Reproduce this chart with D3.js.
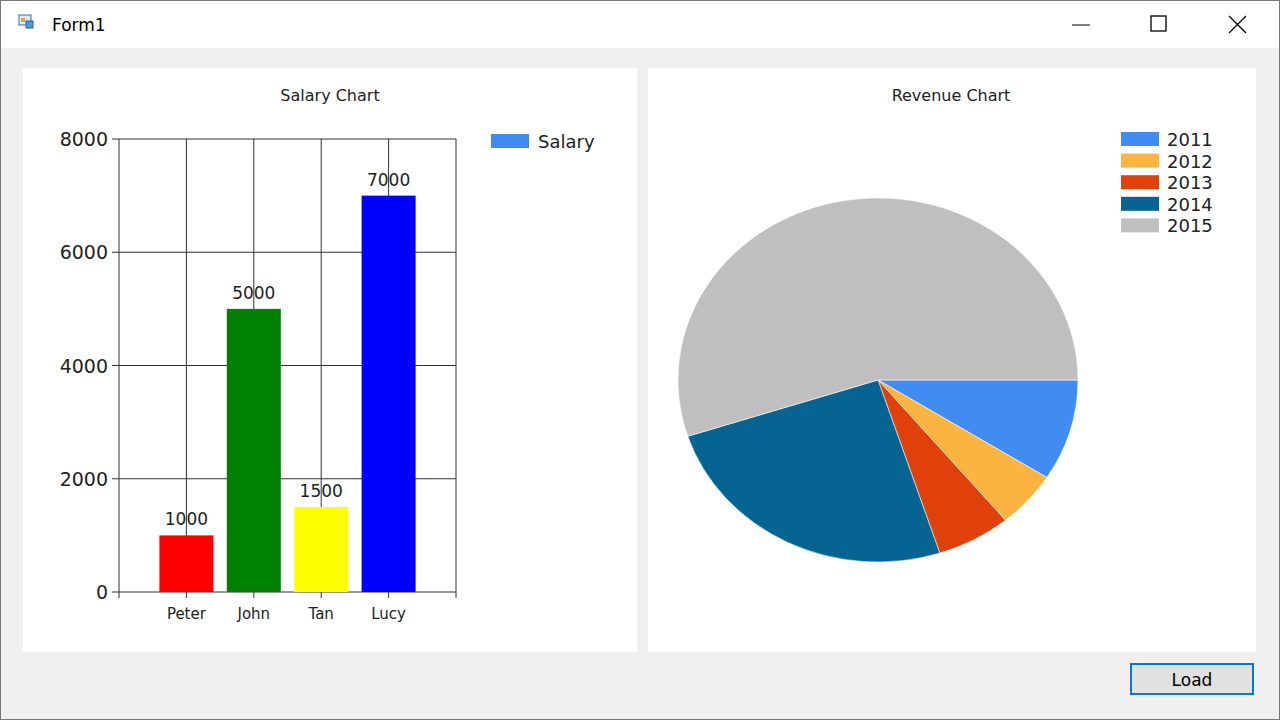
<!DOCTYPE html>
<html><head><meta charset="utf-8">
<script src="https://cdn.jsdelivr.net/npm/d3@7"></script>
<style>body{margin:0;background:#fff;font-family:"Segoe UI","DejaVu Sans",sans-serif}</style>
</head><body>
<svg id="c" width="1280" height="720"></svg>
<script>
const names = ["Peter","John","Tan","Lucy"];
const salaries = [1000,5000,1500,7000];
const barColors = ["#ff0000","#008000","#ffff00","#0000ff"];
const yTicks = [0,2000,4000,6000,8000];
const years = ["2011","2012","2013","2014","2015"];
const revenue = [9,5,6,25,55];
const pieColors = ["#418cf0","#fcb441","#e0400a","#056492","#bfbfbf"];

const svg = d3.select("#c");
svg.append("rect").attr("x",0.5).attr("y",0.5).attr("width",1279).attr("height",719).attr("fill","#f0f0f0").attr("stroke","#777");
svg.append("rect").attr("x",1).attr("y",1).attr("width",1278).attr("height",47).attr("fill","#fff");
const ic = svg.append("g").attr("transform","translate(19,15)");
ic.append("rect").attr("width",12).attr("height",10).attr("fill","#dfe8f3").attr("stroke","#3c6ea8");
ic.append("rect").attr("x",2).attr("y",3).attr("width",4).attr("height",4).attr("fill","#e9a13b");
ic.append("rect").attr("x",7).attr("y",6).attr("width",7).attr("height",7).attr("fill","#4a9bd8").attr("stroke","#2a5f9a");
svg.append("text").attr("x",52).attr("y",31).attr("font-size",17).attr("fill","#000").text("Form1");
svg.append("line").attr("x1",1072).attr("x2",1090).attr("y1",25).attr("y2",25).attr("stroke","#000");
svg.append("rect").attr("x",1151).attr("y",16).attr("width",15).attr("height",15).attr("fill","none").attr("stroke","#000").attr("stroke-width",1.3);
svg.append("path").attr("d","M1229,16L1246,33M1246,16L1229,33").attr("stroke","#000").attr("stroke-width",1.3);
svg.append("rect").attr("x",23).attr("y",68).attr("width",614).attr("height",584).attr("fill","#fff");
svg.append("rect").attr("x",648).attr("y",68).attr("width",608).attr("height",584).attr("fill","#fff");
svg.append("rect").attr("x",1131).attr("y",664).attr("width",122).attr("height",30).attr("fill","#e1e1e1").attr("stroke","#0078d7").attr("stroke-width",2);
svg.append("text").attr("x",1192).attr("y",686).attr("text-anchor","middle").attr("font-size",17).text("Load");

const x = d3.scalePoint().domain(names).range([119,456]).padding(1);
const y = d3.scaleLinear().domain([0,8000]).range([592,139]);
svg.append("text").attr("x",330).attr("y",101).attr("text-anchor","middle").attr("font-size",16).attr("fill","#222").text("Salary Chart");
const g = svg.append("g");
yTicks.forEach(t=>{g.append("line").attr("x1",112).attr("x2",456).attr("y1",y(t)).attr("y2",y(t)).attr("stroke","#333");
  g.append("text").attr("x",108).attr("y",y(t)+7).attr("text-anchor","end").attr("font-size",19).attr("fill","#222").text(t);});
names.forEach(n=>{const cx=x(n);
  g.append("line").attr("x1",cx).attr("x2",cx).attr("y1",139).attr("y2",598).attr("stroke","#333");
  g.append("text").attr("x",cx).attr("y",619).attr("text-anchor","middle").attr("font-size",15).attr("fill","#222").text(n);});
g.append("line").attr("x1",119).attr("x2",119).attr("y1",139).attr("y2",598).attr("stroke","#333");
g.append("line").attr("x1",456).attr("x2",456).attr("y1",139).attr("y2",598).attr("stroke","#333");
const bw = 54;
names.forEach((n,i)=>{const cx=x(n);
  g.append("rect").attr("x",cx-bw/2).attr("y",y(salaries[i])).attr("width",bw).attr("height",y(0)-y(salaries[i])).attr("fill",barColors[i]);
  g.append("text").attr("x",cx).attr("y",y(salaries[i])-10).attr("text-anchor","middle").attr("font-size",17).attr("fill","#222").text(salaries[i]);});
svg.append("rect").attr("x",491).attr("y",134).attr("width",38).attr("height",14).attr("fill","#418cf0");
svg.append("text").attr("x",538).attr("y",148).attr("font-size",18).attr("fill","#222").text("Salary");

svg.append("text").attr("x",951).attr("y",101).attr("text-anchor","middle").attr("font-size",16).attr("fill","#222").text("Revenue Chart");
const pie = d3.pie().sort(null).startAngle(Math.PI/2).endAngle(Math.PI/2+2*Math.PI)(revenue);
const arc = d3.arc().innerRadius(0).outerRadius(200);
svg.append("g").attr("transform","translate(878,380) scale(1,0.91)")
  .selectAll("path").data(pie).join("path").attr("d",arc).attr("fill",(d,i)=>pieColors[i]).attr("stroke","#fff").attr("stroke-width",0.6);
years.forEach((yr,i)=>{
  svg.append("rect").attr("x",1121).attr("y",132+i*21.6).attr("width",38).attr("height",14).attr("fill",pieColors[i]);
  svg.append("text").attr("x",1167).attr("y",146+i*21.6).attr("font-size",18).attr("fill","#222").text(yr);});
</script>
</body></html>
